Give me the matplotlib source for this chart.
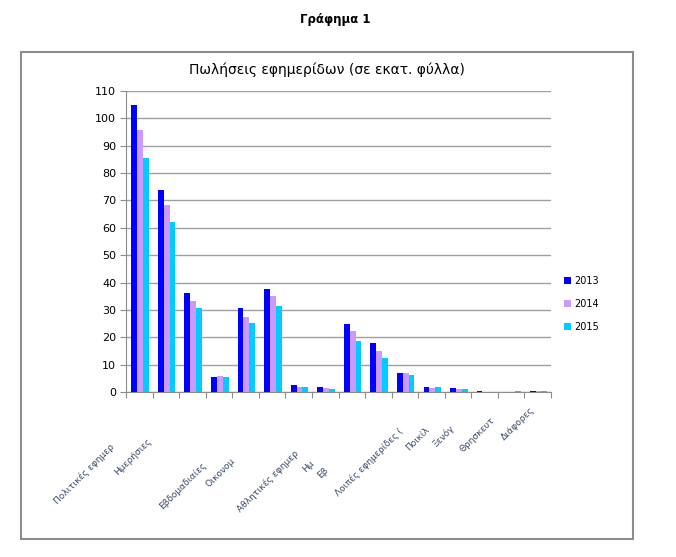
import matplotlib
matplotlib.use('Agg')
import matplotlib.pyplot as plt
import matplotlib.patches as patches
import numpy as np

plt.rcParams['font.family'] = ['DejaVu Sans']

# data (million sheets)
years = ['2013', '2014', '2015']
sales_2013 = [104.9, 73.8, 36.2, 5.5, 30.7, 37.6, 2.6, 1.8, 24.9, 17.9, 6.9, 1.8, 1.5, 0.3, 0.0, 0.3]
sales_2014 = [95.8, 68.3, 33.3, 5.8, 27.4, 35.1, 1.8, 1.5, 22.3, 15.0, 6.9, 1.3, 1.1, 0.0, 0.0, 0.2]
sales_2015 = [85.5, 62.1, 30.7, 5.5, 25.2, 31.4, 1.8, 1.1, 18.6, 12.4, 6.2, 1.8, 1.1, 0.0, 0.3, 0.3]
colors = ['#0000FF', '#CC99FF', '#00CCFF']

# category labels as Excel drew them (truncated)
cat_labels = ['Πολιτικές εφημερ', 'Ημερήσιες', 'Εβδομαδιαίες', 'Οικονομ',
              'Αθλητικές εφημερ', 'Ημ', 'Εβ', 'Λοιπές εφημερίδες (',
              'Ποικίλ', 'Ξενόγ', 'Θρησκευτ', 'Διάφορες']
# where each label ends (x in category units, y in pixels below axis)
label_x = [-0.99, 0.40, 2.47, 3.57, 5.94, 6.54, 7.07, 9.89, 10.87, 11.81, 13.32, 14.82]
label_dy = [53, 48, 72, 67, 60, 70, 77, 38, 37, 35, 27, 17]

fig = plt.figure(figsize=(6.76, 5.57), dpi=100)

# chart frame
frame = patches.Rectangle((21 / 676, 18 / 557), 612 / 676, 487 / 557,
                          transform=fig.transFigure, fill=False,
                          edgecolor='#8c8c8c', linewidth=1.5)
fig.add_artist(frame)

fig.text(335 / 676, 1 - 20 / 557, 'Γράφημα 1', ha='center', va='center',
         fontsize=8.5, fontweight='bold')
fig.text(327 / 676, 1 - 70 / 557, 'Πωλήσεις εφημερίδων (σε εκατ. φύλλα)',
         ha='center', va='center', fontsize=10)

ax = fig.add_axes([126 / 676, 165 / 557, 425 / 676, 301 / 557])

n = len(sales_2013)
x = np.arange(n)
w = 0.22
for i, (vals, c) in enumerate(zip([sales_2013, sales_2014, sales_2015], colors)):
    ax.bar(x + (i - 1) * w + 0.03, vals, width=w, color=c, label=years[i], zorder=3)

ax.set_xlim(-0.5, n - 0.5)
ax.set_ylim(0, 110)
ax.set_yticks(np.arange(0, 111, 10))
ax.yaxis.grid(True, color='#a0a0a0', linewidth=1, zorder=0)
ax.tick_params(axis='y', labelsize=8, length=4, color='#8c8c8c', pad=3)
ax.set_xticks(np.arange(-0.5, n, 1))
ax.set_xticklabels([])
ax.tick_params(axis='x', length=4, color='#8c8c8c')
for s in ['top', 'right']:
    ax.spines[s].set_visible(False)
for s in ['left', 'bottom']:
    ax.spines[s].set_color('#8c8c8c')

# rotated category labels
for lab, lx, dy in zip(cat_labels, label_x, label_dy):
    ax.annotate(lab, xy=(lx, 0), xycoords='data', xytext=(0, -dy * 0.72),
                textcoords='offset points', rotation=45, rotation_mode='anchor',
                ha='right', va='center', fontsize=6.5, color='#3a4a6a',
                annotation_clip=False)

leg = ax.legend(loc='center left', bbox_to_anchor=(1.01, 0.292), frameon=False,
                fontsize=7, handlelength=0.7, handleheight=0.7,
                handletextpad=0.4, labelspacing=1.35)

fig.savefig('out.png', dpi=100)
